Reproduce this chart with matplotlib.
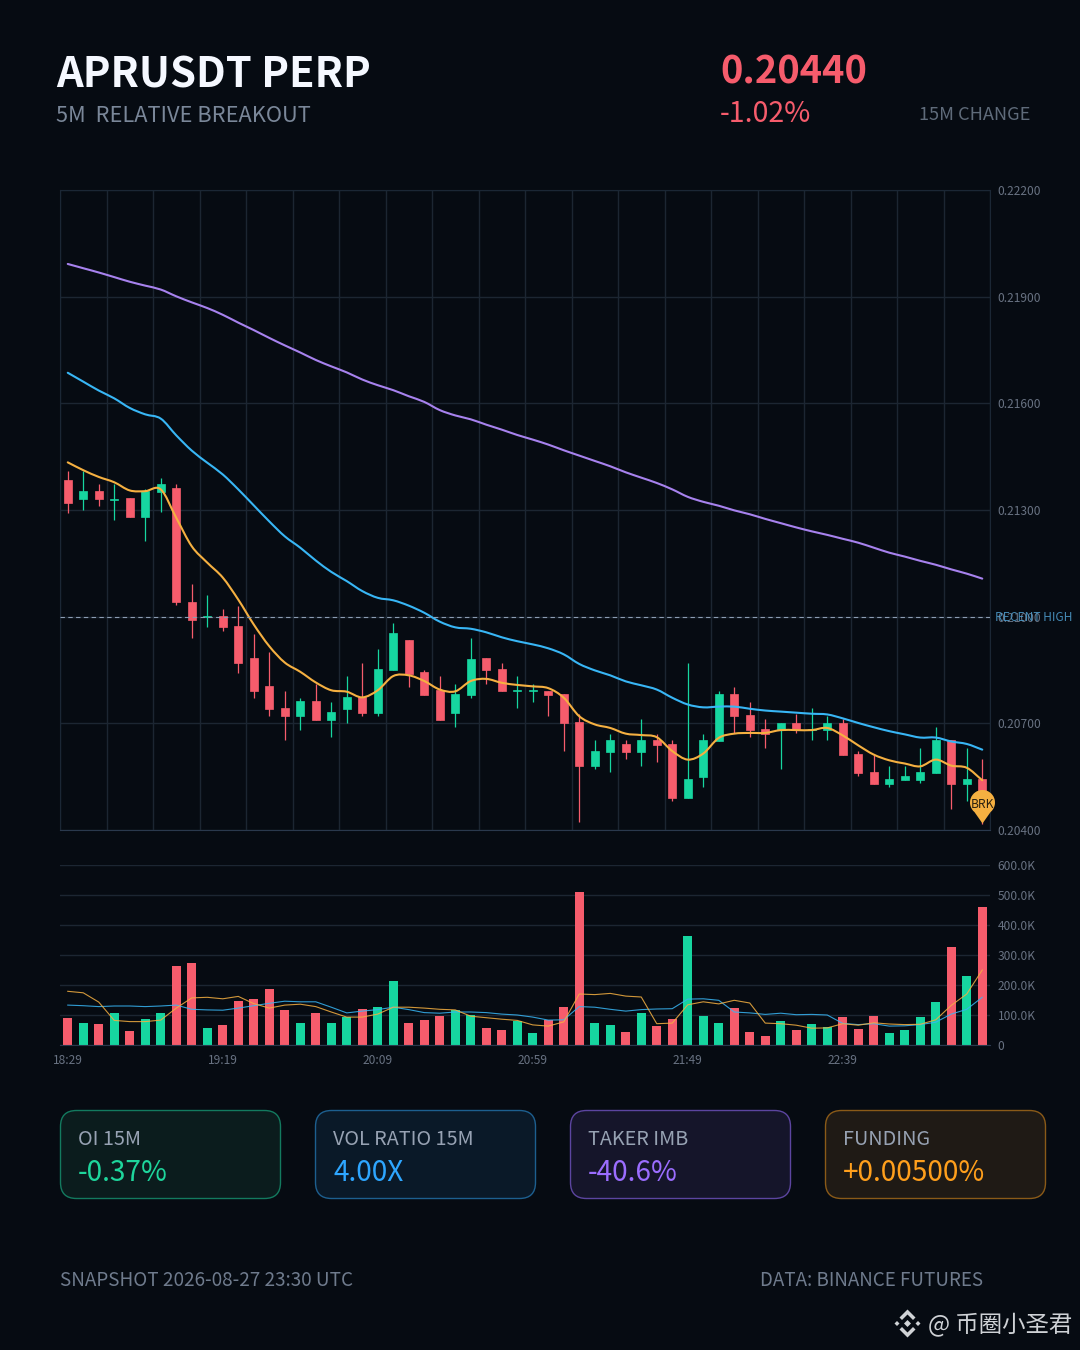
import matplotlib
matplotlib.use("Agg")
import matplotlib.pyplot as plt
from matplotlib.patches import FancyBboxPatch, Polygon, PathPatch
from matplotlib.path import Path
import numpy as np

plt.rcParams['font.family'] = ['Noto Sans CJK SC', 'DejaVu Sans']

BG = '#060b12'
GRID = '#1c2632'
UP = '#16d6a0'
DOWN = '#f65c6c'
ORANGE = '#f5b041'
BLUE = '#38b6f5'
PURPLE = '#a782ee'
TICK = '#687282'

times = ['18:29', '19:19', '20:09', '20:59', '21:49', '22:39']

opens = [.21383, .21330, .21353, .21329, .21333, .21280, .21350, .21362, .21042, .21000,
         .21001, .20973, .20883, .20804, .20744, .20720, .20763, .20710, .20740, .20775,
         .20730, .20849, .20933, .20843, .20793, .20730, .20779, .20883, .20853, .20791,
         .20792, .20792, .20783, .20703, .20579, .20619, .20643, .20619, .20654, .20643,
         .20489, .20550, .20650, .20783, .20723, .20683, .20681, .20702, .20681, .20681,
         .20702, .20613, .20564, .20530, .20540, .20540, .20560, .20654, .20530, .20543]
highs = [.21411, .21411, .21372, .21372, .21333, .21360, .21391, .21372, .21092, .21062,
         .21022, .21031, .20952, .20902, .20792, .20772, .20811, .20761, .20832, .20871,
         .20910, .20982, .20933, .20851, .20832, .20812, .20941, .20883, .20871, .20832,
         .20812, .20792, .20783, .20725, .20652, .20671, .20652, .20711, .20671, .20652,
         .20870, .20671, .20792, .20801, .20761, .20711, .20702, .20725, .20742, .20722,
         .20711, .20621, .20612, .20581, .20581, .20632, .20691, .20654, .20632, .20601]
lows = [.21291, .21301, .21311, .21271, .21280, .21212, .21293, .21032, .20941, .20971,
        .20961, .20842, .20772, .20722, .20652, .20681, .20710, .20661, .20701, .20722,
        .20722, .20849, .20801, .20779, .20710, .20691, .20771, .20812, .20790, .20742,
        .20761, .20722, .20621, .20422, .20571, .20562, .20601, .20581, .20591, .20481,
        .20489, .20522, .20650, .20672, .20662, .20632, .20571, .20672, .20652, .20652,
        .20610, .20551, .20530, .20522, .20540, .20531, .20560, .20460, .20481, .20417]
closes = [.21320, .21353, .21330, .21332, .21280, .21353, .21374, .21041, .20990, .21002,
          .20970, .20870, .20790, .20741, .20720, .20763, .20710, .20733, .20773, .20730,
          .20853, .20953, .20840, .20779, .20710, .20783, .20882, .20849, .20790, .20793,
          .20793, .20779, .20700, .20579, .20623, .20654, .20619, .20654, .20640, .20489,
          .20543, .20654, .20783, .20720, .20681, .20671, .20702, .20681, .20684, .20702,
          .20610, .20560, .20530, .20543, .20553, .20564, .20654, .20530, .20543, .20440]

ema_fast = [.21434, .21412, .21393, .21378, .21355, .21353, .21358, .21278, .21198, .21152,
            .21110, .21048, .20978, .20917, .20871, .20845, .20815, .20793, .20789, .20773,
            .20793, .20833, .20835, .20819, .20795, .20790, .20819, .20825, .20814, .20808,
            .20804, .20799, .20772, .20720, .20697, .20687, .20671, .20667, .20661, .20622,
            .20598, .20615, .20659, .20671, .20673, .20673, .20681, .20681, .20681, .20687,
            .20666, .20638, .20612, .20596, .20587, .20579, .20598, .20581, .20575, .20540]
ema_mid = [.21686, .21661, .21636, .21614, .21587, .21569, .21557, .21510, .21467, .21433,
           .21400, .21358, .21313, .21268, .21226, .21194, .21158, .21126, .21100, .21072,
           .21053, .21046, .21031, .21011, .20986, .20970, .20966, .20956, .20942, .20931,
           .20922, .20911, .20894, .20867, .20849, .20835, .20818, .20807, .20795, .20772,
           .20753, .20745, .20747, .20747, .20741, .20736, .20733, .20730, .20727, .20725,
           .20714, .20701, .20689, .20678, .20669, .20660, .20660, .20649, .20642, .20626]
ema_slow = [.21992, .21980, .21968, .21955, .21942, .21931, .21920, .21901, .21884, .21868,
            .21849, .21827, .21806, .21784, .21763, .21743, .21722, .21704, .21687, .21667,
            .21651, .21637, .21620, .21604, .21581, .21566, .21555, .21540, .21526, .21511,
            .21498, .21484, .21468, .21453, .21438, .21423, .21406, .21391, .21376, .21358,
            .21337, .21323, .21312, .21299, .21288, .21275, .21263, .21251, .21240, .21230,
            .21219, .21208, .21194, .21180, .21169, .21157, .21146, .21133, .21121, .21107]

# volume in thousands
volume = [90, 72, 70, 107, 48, 88, 108, 263, 272, 58,
          67, 147, 153, 187, 117, 73, 107, 73, 92, 120,
          127, 213, 73, 83, 98, 117, 101, 56, 51, 81,
          41, 84, 127, 509, 73, 66, 42, 108, 64, 87,
          364, 97, 73, 123, 43, 29, 80, 51, 69, 61,
          93, 54, 98, 41, 50, 94, 144, 327, 230, 461]
vol_ma_short = [179, 174, 143, 82, 78, 78, 83, 123, 157, 159,
                154, 162, 138, 123, 133, 136, 128, 110, 93, 93,
                103, 126, 126, 123, 119, 117, 96, 91, 86, 82,
                67, 63, 77, 170, 168, 172, 163, 160, 71, 73,
                134, 144, 137, 149, 140, 73, 71, 66, 56, 57,
                71, 66, 74, 70, 68, 69, 84, 132, 170, 250]
vol_ma_long = [133, 131, 128, 130, 130, 128, 130, 133, 119, 117,
               116, 123, 131, 139, 146, 144, 144, 126, 107, 113,
               118, 126, 118, 108, 106, 110, 110, 108, 103, 100,
               93, 83, 84, 128, 126, 119, 113, 118, 120, 121,
               153, 154, 149, 110, 107, 102, 106, 101, 102, 100,
               72, 68, 71, 63, 64, 68, 76, 103, 119, 159]

price_ticks = [.204, .207, .210, .213, .216, .219, .222]
vol_ticks = [0, 100, 200, 300, 400, 500, 600]
vol_tick_labels = ['0', '100.0K', '200.0K', '300.0K', '400.0K', '500.0K', '600.0K']
recent_high = 0.2100

cards = [('OI 15M', '-0.37%', '#1ed69c', '#0b1c1d', '#137a5f'),
         ('VOL RATIO 15M', '4.00X', '#2ea6ff', '#0a1928', '#1d5f8f'),
         ('TAKER IMB', '-40.6%', '#9b6dff', '#15152a', '#5c45a0'),
         ('FUNDING', '+0.00500%', '#ff9f1c', '#1f1a15', '#8a5a18')]


def px(size):
    # font sizes below are given in image pixels
    return size * 0.72


def rect(left, top, right, bottom):
    return [left / 1080, 1 - bottom / 1350, (right - left) / 1080, (bottom - top) / 1350]


def smooth_line(axis, xs, ys, color, lw):
    # the lines in the chart are drawn as curves through the values
    xs = np.asarray(xs, float)
    ys = np.asarray(ys, float)
    dy = np.gradient(ys, xs)
    verts = [(xs[0], ys[0])]
    for i in range(len(xs) - 1):
        verts.append((xs[i] + 1 / 3, ys[i] + dy[i] / 3))
        verts.append((xs[i + 1] - 1 / 3, ys[i + 1] - dy[i + 1] / 3))
        verts.append((xs[i + 1], ys[i + 1]))
    codes = [Path.MOVETO] + [Path.CURVE4] * (len(verts) - 1)
    axis.add_patch(PathPatch(Path(verts, codes), fc='none', ec=color, lw=lw, zorder=4,
                             capstyle='round', joinstyle='round'))


fig = plt.figure(figsize=(10.8, 13.5), dpi=100, facecolor=BG)
x = np.arange(len(closes))
colors = [UP if c >= o else DOWN for o, c in zip(opens, closes)]

# price panel
ax = fig.add_axes(rect(60, 190, 990, 830), facecolor=BG)
ax.set_xlim(-0.5, 59.5)
ax.set_ylim(0.204, 0.222)
ax.set_xticks(np.arange(-0.5, 60, 3))
ax.set_yticks(price_ticks)
ax.grid(True, color=GRID, lw=1, zorder=0)
ax.set_axisbelow(True)
ax.tick_params(left=False, bottom=False, labelbottom=False, labelleft=False, right=False,
               labelright=True, labelsize=px(12), labelcolor=TICK, pad=2)
ax.yaxis.set_major_formatter(lambda v, pos: f'{v:.5f}')
for s in ax.spines.values():
    s.set_color('#1b2735')
ax.spines['bottom'].set_color('#2a394d')

ax.vlines(x, lows, highs, color=colors, lw=0.9, zorder=2)
bottoms = [min(o, c) for o, c in zip(opens, closes)]
heights = [abs(o - c) for o, c in zip(opens, closes)]
ax.bar(x, heights, 0.52, bottom=bottoms, color=colors, edgecolor=colors, lw=0.5, zorder=3)

smooth_line(ax, x, ema_slow, PURPLE, 1.5)
smooth_line(ax, x, ema_mid, BLUE, 1.5)
smooth_line(ax, x, ema_fast, ORANGE, 1.5)
ax.axhline(recent_high, color='#8c9db3', lw=0.8, dashes=(4, 3), zorder=4)

# BRK pin, tip sits on the last low
arc = Path.arc(-50, 230)
pin_verts = np.vstack([arc.vertices * 12.5 + [0, 21], [[0, 0], [0, 0]]])
pin_codes = list(arc.codes) + [Path.LINETO, Path.CLOSEPOLY]
ax.plot([59], [0.20421], marker=Path(pin_verts, pin_codes), ms=px(67), color=ORANGE,
        mew=0, ls='none', clip_on=False, zorder=6)

# volume panel
ax2 = fig.add_axes(rect(60, 865, 990, 1045), facecolor=BG)
ax2.set_xlim(-0.5, 59.5)
ax2.set_ylim(0, 600)
ax2.set_yticks(vol_ticks, vol_tick_labels)
ax2.set_xticks(x[::10], times)
ax2.grid(True, axis='y', color=GRID, lw=1, zorder=0)
ax2.set_axisbelow(True)
ax2.tick_params(left=False, bottom=False, right=False, labelleft=False, labelright=True,
                labelsize=px(12), labelcolor=TICK, pad=2)
ax2.tick_params(axis='x', pad=3)
for k in ['left', 'right', 'top']:
    ax2.spines[k].set_visible(False)
ax2.spines['bottom'].set_color('#2a394d')
ax2.bar(x, volume, 0.56, color=colors, zorder=2)
ax2.plot(x, vol_ma_long, color=BLUE, lw=0.8, alpha=0.85, zorder=3)
ax2.plot(x, vol_ma_short, color=ORANGE, lw=0.8, alpha=0.85, zorder=3)

# overlay in image pixels for the text and cards
ov = fig.add_axes([0, 0, 1, 1], facecolor='none')
ov.set_xlim(0, 1080)
ov.set_ylim(1350, 0)
ov.axis('off')

ov.text(56, 88, 'APRUSDT PERP', color='#f5f8ff', fontsize=px(41.7), fontweight='bold')
ov.text(56, 122.5, '5M  RELATIVE BREAKOUT', color='#7a8799', fontsize=px(21.8))
ov.text(720, 84, '0.20440', color=DOWN, fontsize=px(38), fontweight='bold')
ov.text(720, 122, '-1.02%', color=DOWN, fontsize=px(28.5))
ov.text(1030, 120.5, '15M CHANGE', color='#5f6b7a', fontsize=px(18.2), ha='right')

ov.text(995, 617.5, 'RECENT HIGH', color='#4f9fd0', fontsize=px(12), va='center', alpha=0.85)
ov.text(982, 805, 'BRK', color='#2b2110', fontsize=px(12), ha='center', va='center', zorder=8)

for i, (label, value, col, fill, edge) in enumerate(cards):
    left = 60.5 + 255 * i
    ov.add_patch(FancyBboxPatch((left + 16, 1110.5 + 16), 220 - 32, 88 - 32,
                                boxstyle='round,pad=16,rounding_size=16',
                                fc=fill, ec=edge, lw=1))
    ov.text(left + 17.5, 1145, label, color='#97a2b3', fontsize=px(19.8))
    ov.text(left + 17.5, 1181, value, color=col, fontsize=px(28))

ov.text(60, 1286, 'SNAPSHOT 2026-08-27 23:30 UTC', color='#6f7b8d', fontsize=px(18.9))
ov.text(983, 1286, 'DATA: BINANCE FUTURES', color='#6f7b8d', fontsize=px(18.8), ha='right')

# watermark logo
lx, ly = 907.5, 1323.5
LOGO = '#d0d3d6'
logo_parts = [[(0, -3.5), (3.5, 0), (0, 3.5), (-3.5, 0)],
              [(-10.5, -2.5), (-8, 0), (-10.5, 2.5), (-13, 0)],
              [(10.5, -2.5), (13, 0), (10.5, 2.5), (8, 0)],
              [(0, -14), (8, -6), (5.5, -3.5), (0, -9), (-5.5, -3.5), (-8, -6)],
              [(0, 14), (8, 6), (5.5, 3.5), (0, 9), (-5.5, 3.5), (-8, 6)]]
for part in logo_parts:
    ov.add_patch(Polygon([(lx + a, ly + b) for a, b in part], fc=LOGO, ec='none'))
ov.text(928, 1332, '@ 币圈小圣君', color='#cfd2d6', fontsize=px(23.4))

fig.savefig('out.png', dpi=100, facecolor=BG)
